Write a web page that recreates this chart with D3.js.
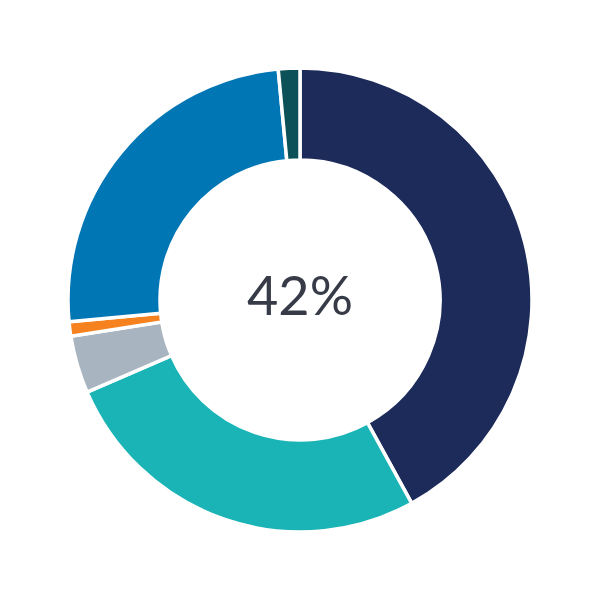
<!DOCTYPE html>
<html>
<head>
<meta charset="utf-8">
<script src="https://cdn.jsdelivr.net/npm/d3@7"></script>
<style>
  html, body { margin: 0; padding: 0; background: #fff; }
  svg { display: block; }
</style>
</head>
<body>
<div id="chart"></div>
<script>
// slice data, clockwise from 12 o'clock
const categories = ["A", "B", "C", "D", "E", "F"];
const values = [42, 26.5, 4, 1, 25, 1.5];
const colors = ["#1c2b5a", "#1bb4b6", "#a9b4c1", "#f5821f", "#0076b5", "#0b5157"];
const centerLabel = "42%";

const width = 600, height = 600;
const outerR = 232, innerR = 140;

const svg = d3.select("#chart")
    .append("svg")
    .attr("width", width)
    .attr("height", height);

const g = svg.append("g")
    .attr("transform", `translate(${width / 2},${height / 2})`);

const pie = d3.pie()
    .sort(null)
    .value(d => d.value);

const arc = d3.arc()
    .innerRadius(innerR)
    .outerRadius(outerR);

const data = categories.map((c, i) => ({ name: c, value: values[i], color: colors[i] }));

g.selectAll("path")
    .data(pie(data))
    .join("path")
    .attr("d", arc)
    .attr("fill", d => d.data.color)
    .attr("stroke", "#fff")
    .attr("stroke-width", 3.5);

// centre text
g.append("text")
    .attr("text-anchor", "middle")
    .attr("dominant-baseline", "central")
    .attr("y", -6)
    .attr("font-family", "Lato, 'Open Sans', sans-serif")
    .attr("font-weight", 400)
    .attr("font-size", 54)
    .attr("fill", "#363b47")
    .text(centerLabel);
</script>
</body>
</html>
